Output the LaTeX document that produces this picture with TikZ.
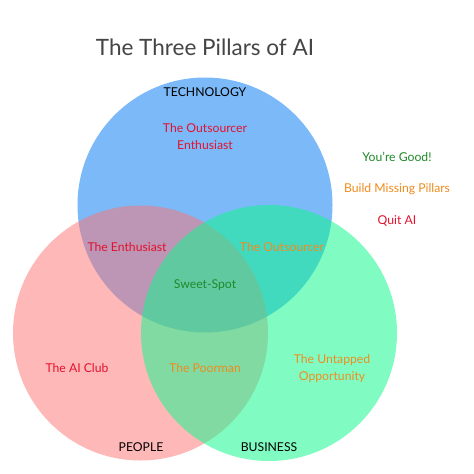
\documentclass[tikz,border=0pt]{standalone}
\usepackage{fontspec}
\setmainfont{Lato}
\definecolor{techblue}{HTML}{7BB9F8}
\definecolor{peoplered}{HTML}{FF7373}
\definecolor{bizgreen}{HTML}{0CFA8C}
\definecolor{lblred}{HTML}{E3122E}
\definecolor{lblorange}{HTML}{F08C1E}
\definecolor{lblgreen}{HTML}{1F8A2A}
\definecolor{titlegray}{HTML}{454545}

\begin{document}
\begin{tikzpicture}[x=1pt, y=-1pt,
  pillar/.style={font=\fontsize{12.2}{14}\selectfont, text=black},
  zone/.style={font=\fontsize{12.2}{17}\selectfont, align=center},
]

% Canvas
\useasboundingbox (0,0) rectangle (474,474);
\fill[white] (0,0) rectangle (474,474);

% Title
\node[font=\fontsize{22.5}{26}\selectfont, text=titlegray] (title) at (205,47)
  {The Three Pillars of AI};

% =============================================
% The three circles
% =============================================
\fill[techblue] (205,205) circle (127.5pt);
\fill[peoplered, fill opacity=0.5] (140.5,333) circle (127.5pt);
\fill[bizgreen, fill opacity=0.52] (269,333) circle (128pt);

% Pillar names
\node[pillar] (tech) at (205,92) {TECHNOLOGY};
\node[pillar] (people) at (141,447) {PEOPLE};
\node[pillar] (business) at (269,447) {BUSINESS};

% =============================================
% Regions
% =============================================
\node[zone, text=lblred] (outenth) at (205,137) {The Outsourcer\\Enthusiast};
\node[zone, text=lblred] (enthusiast) at (127,247) {The Enthusiast};
\node[zone, text=lblorange] (outsourcer) at (282,247) {The Outsourcer};
\node[zone, text=lblgreen] (sweet) at (205,285) {Sweet-Spot};
\node[zone, text=lblred] (aiclub) at (77,368) {The AI Club};
\node[zone, text=lblorange] (poorman) at (205,368) {The Poorman};
\node[zone, text=lblorange] (untapped) at (332,369) {The Untapped\\Opportunity};

% Legend
\node[zone, text=lblgreen] (good) at (397,157) {You're Good!};
\node[zone, text=lblorange] (build) at (397,189) {Build Missing Pillars};
\node[zone, text=lblred] (quit) at (397,221) {Quit AI};

\end{tikzpicture}
\end{document}
